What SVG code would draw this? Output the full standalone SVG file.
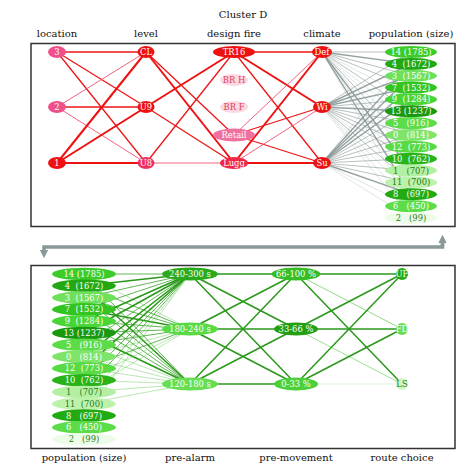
<svg xmlns="http://www.w3.org/2000/svg" width="474" height="474" viewBox="0 0 474 474">
<defs>
<style>
text{font-family:"DejaVu Serif","Liberation Serif",serif;}
.hd{font-size:10px;fill:#111;text-anchor:middle;}
.nl{font-size:8.4px;fill:#fff;text-anchor:middle;dominant-baseline:central;}
.nd{font-size:8.4px;fill:#2a7a20;text-anchor:middle;dominant-baseline:central;}
.box{fill:#fff;stroke:#333;stroke-width:1.5;}
.r1{stroke:#ee1111;stroke-width:2;fill:none;}
.r2{stroke:#ee1515;stroke-width:1.3;fill:none;}
.r3{stroke:#f05070;stroke-width:0.9;fill:none;}
.gA{stroke:#8a9898;stroke-width:1.4;opacity:.9;}
.gB{stroke:#8a9898;stroke-width:1;opacity:.6;}
.gC{stroke:#8a9898;stroke-width:.8;opacity:.3;}
.k1{stroke:#2a981a;stroke-width:1.5;}
.k2{stroke:#3aa62a;stroke-width:1;opacity:.8;}
.k3{stroke:#55c545;stroke-width:.8;opacity:.5;}
.arr{stroke:#8a9898;stroke-width:3.5;fill:none;}
</style>
<marker id="ah" viewBox="0 0 10 10" refX="5" refY="5" markerWidth="2.4" markerHeight="2.4" orient="auto">
<path d="M0,0 L10,5 L0,10 z" fill="#8a9898"/>
</marker>
</defs>
<rect width="474" height="474" fill="#fff"/>
<text class="hd" x="243" y="18" font-size="10.5">Cluster D</text>
<text class="hd" x="57" y="37">location</text>
<text class="hd" x="146" y="37">level</text>
<text class="hd" x="234" y="37">design fire</text>
<text class="hd" x="322" y="37">climate</text>
<text class="hd" x="411" y="37">population (size)</text>
<rect class="box" x="31" y="43.5" width="424" height="183"/>
<rect class="box" x="31" y="265.5" width="424" height="183"/>
<text class="hd" x="84" y="461">population (size)</text>
<text class="hd" x="190" y="461">pre-alarm</text>
<text class="hd" x="296" y="461">pre-movement</text>
<text class="hd" x="402" y="461">route choice</text>

<g id="connectors">
<line class="r2" x1="57" y1="52" x2="146" y2="52"/>
<line class="r2" x1="57" y1="52" x2="146" y2="107"/>
<line class="r2" x1="57" y1="52" x2="146" y2="163"/>
<line class="r3" x1="57" y1="107" x2="146" y2="52"/>
<line class="r2" x1="57" y1="107" x2="146" y2="107"/>
<line class="r3" x1="57" y1="107" x2="146" y2="163"/>
<line class="r1" x1="57" y1="163" x2="146" y2="52"/>
<line class="r1" x1="57" y1="163" x2="146" y2="107"/>
<line class="r1" x1="57" y1="163" x2="146" y2="163"/>
<line class="r2" x1="146" y1="52" x2="234" y2="135"/>
<line class="r1" x1="146" y1="52" x2="234" y2="163"/>
<line class="r1" x1="146" y1="107" x2="234" y2="52"/>
<line class="r2" x1="146" y1="107" x2="234" y2="163"/>
<line class="r2" x1="146" y1="163" x2="234" y2="52"/>
<line class="r3" x1="146" y1="163" x2="234" y2="163"/>
<line class="r2" x1="234" y1="52" x2="322" y2="52"/>
<line class="r1" x1="234" y1="52" x2="322" y2="107"/>
<line class="r2" x1="234" y1="52" x2="322" y2="163"/>
<line class="r3" x1="234" y1="135" x2="322" y2="52"/>
<line class="r2" x1="234" y1="135" x2="322" y2="107"/>
<line class="r2" x1="234" y1="135" x2="322" y2="163"/>
<line class="r1" x1="234" y1="163" x2="322" y2="52"/>
<line class="r3" x1="234" y1="163" x2="322" y2="107"/>
<line class="r1" x1="234" y1="163" x2="322" y2="163"/>
<g>
<line class="gB" x1="322" y1="52" x2="411" y2="52"/>
<line class="gA" x1="322" y1="52" x2="411" y2="63.9"/>
<line class="gB" x1="322" y1="52" x2="411" y2="75.7"/>
<line class="gB" x1="322" y1="52" x2="411" y2="87.6"/>
<line class="gC" x1="322" y1="52" x2="411" y2="99.4"/>
<line class="gB" x1="322" y1="52" x2="411" y2="111.3"/>
<line class="gC" x1="322" y1="52" x2="411" y2="123.1"/>
<line class="gC" x1="322" y1="52" x2="411" y2="135"/>
<line class="gB" x1="322" y1="52" x2="411" y2="146.8"/>
<line class="gC" x1="322" y1="52" x2="411" y2="158.7"/>
<line class="gA" x1="322" y1="52" x2="411" y2="170.5"/>
<line class="gC" x1="322" y1="52" x2="411" y2="182.4"/>
<line class="gA" x1="322" y1="52" x2="411" y2="194.2"/>
<line class="gC" x1="322" y1="52" x2="411" y2="206.1"/>
<line class="gB" x1="322" y1="107" x2="411" y2="52"/>
<line class="gA" x1="322" y1="107" x2="411" y2="63.9"/>
<line class="gA" x1="322" y1="107" x2="411" y2="75.7"/>
<line class="gA" x1="322" y1="107" x2="411" y2="87.6"/>
<line class="gB" x1="322" y1="107" x2="411" y2="99.4"/>
<line class="gA" x1="322" y1="107" x2="411" y2="111.3"/>
<line class="gB" x1="322" y1="107" x2="411" y2="123.1"/>
<line class="gB" x1="322" y1="107" x2="411" y2="135"/>
<line class="gB" x1="322" y1="107" x2="411" y2="146.8"/>
<line class="gB" x1="322" y1="107" x2="411" y2="158.7"/>
<line class="gC" x1="322" y1="107" x2="411" y2="170.5"/>
<line class="gB" x1="322" y1="107" x2="411" y2="182.4"/>
<line class="gC" x1="322" y1="107" x2="411" y2="194.2"/>
<line class="gC" x1="322" y1="107" x2="411" y2="206.1"/>
<line class="gC" x1="322" y1="107" x2="411" y2="217.9"/>
<line class="gC" x1="322" y1="163" x2="411" y2="52"/>
<line class="gA" x1="322" y1="163" x2="411" y2="63.9"/>
<line class="gA" x1="322" y1="163" x2="411" y2="75.7"/>
<line class="gA" x1="322" y1="163" x2="411" y2="87.6"/>
<line class="gA" x1="322" y1="163" x2="411" y2="99.4"/>
<line class="gB" x1="322" y1="163" x2="411" y2="111.3"/>
<line class="gB" x1="322" y1="163" x2="411" y2="123.1"/>
<line class="gB" x1="322" y1="163" x2="411" y2="135"/>
<line class="gB" x1="322" y1="163" x2="411" y2="146.8"/>
<line class="gB" x1="322" y1="163" x2="411" y2="158.7"/>
<line class="gB" x1="322" y1="163" x2="411" y2="170.5"/>
<line class="gB" x1="322" y1="163" x2="411" y2="182.4"/>
<line class="gA" x1="322" y1="163" x2="411" y2="194.2"/>
<line class="gC" x1="322" y1="163" x2="411" y2="206.1"/>
<line class="gC" x1="322" y1="163" x2="411" y2="217.9"/>
</g>
<g>
<line class="k2" x1="84" y1="274" x2="190" y2="274"/>
<line class="k3" x1="84" y1="274" x2="190" y2="329"/>
<line class="k2" x1="84" y1="274" x2="190" y2="384"/>
<line class="k1" x1="84" y1="285.8" x2="190" y2="274"/>
<line class="k2" x1="84" y1="285.8" x2="190" y2="329"/>
<line class="k1" x1="84" y1="285.8" x2="190" y2="384"/>
<line class="k2" x1="84" y1="297.6" x2="190" y2="274"/>
<line class="k2" x1="84" y1="297.6" x2="190" y2="329"/>
<line class="k2" x1="84" y1="297.6" x2="190" y2="384"/>
<line class="k2" x1="84" y1="309.4" x2="190" y2="274"/>
<line class="k1" x1="84" y1="309.4" x2="190" y2="329"/>
<line class="k2" x1="84" y1="309.4" x2="190" y2="384"/>
<line class="k1" x1="84" y1="321.2" x2="190" y2="274"/>
<line class="k2" x1="84" y1="321.2" x2="190" y2="329"/>
<line class="k2" x1="84" y1="321.2" x2="190" y2="384"/>
<line class="k1" x1="84" y1="333" x2="190" y2="274"/>
<line class="k2" x1="84" y1="333" x2="190" y2="329"/>
<line class="k1" x1="84" y1="333" x2="190" y2="384"/>
<line class="k2" x1="84" y1="344.8" x2="190" y2="274"/>
<line class="k2" x1="84" y1="344.8" x2="190" y2="329"/>
<line class="k3" x1="84" y1="344.8" x2="190" y2="384"/>
<line class="k1" x1="84" y1="356.6" x2="190" y2="274"/>
<line class="k3" x1="84" y1="356.6" x2="190" y2="329"/>
<line class="k3" x1="84" y1="356.6" x2="190" y2="384"/>
<line class="k1" x1="84" y1="368.4" x2="190" y2="274"/>
<line class="k2" x1="84" y1="368.4" x2="190" y2="329"/>
<line class="k3" x1="84" y1="368.4" x2="190" y2="384"/>
<line class="k2" x1="84" y1="380.2" x2="190" y2="274"/>
<line class="k3" x1="84" y1="380.2" x2="190" y2="329"/>
<line class="k3" x1="84" y1="380.2" x2="190" y2="384"/>
<line class="k2" x1="84" y1="392" x2="190" y2="274"/>
<line class="k3" x1="84" y1="392" x2="190" y2="329"/>
<line class="k3" x1="84" y1="392" x2="190" y2="384"/>
<line class="k3" x1="84" y1="403.8" x2="190" y2="274"/>
<line class="k3" x1="84" y1="403.8" x2="190" y2="384"/>
<line class="k3" x1="84" y1="415.6" x2="190" y2="274"/>
</g>
<line class="k1" x1="190" y1="274" x2="296" y2="274"/>
<line class="k1" x1="190" y1="274" x2="296" y2="329"/>
<line class="k1" x1="190" y1="274" x2="296" y2="384"/>
<line class="k1" x1="190" y1="329" x2="296" y2="274"/>
<line class="k1" x1="190" y1="329" x2="296" y2="329"/>
<line class="k1" x1="190" y1="329" x2="296" y2="384"/>
<line class="k1" x1="190" y1="384" x2="296" y2="274"/>
<line class="k1" x1="190" y1="384" x2="296" y2="329"/>
<line class="k1" x1="190" y1="384" x2="296" y2="384"/>
<line class="k1" x1="296" y1="274" x2="402" y2="274"/>
<line class="k3" x1="296" y1="274" x2="402" y2="329" style="opacity:.8"/>
<line class="k1" x1="296" y1="274" x2="402" y2="384"/>
<line class="k1" x1="296" y1="329" x2="402" y2="274"/>
<line class="k1" x1="296" y1="329" x2="402" y2="329"/>
<line class="k3" x1="296" y1="329" x2="402" y2="384" style="opacity:.7"/>
<line class="k1" x1="296" y1="384" x2="402" y2="274"/>
<line class="k1" x1="296" y1="384" x2="402" y2="329"/>
<line class="k3" x1="296" y1="384" x2="402" y2="384" style="opacity:.25"/>
<path class="arr" d="M442.5,240 V247 H44 V254" marker-end="url(#ah)"/>
<path class="arr" d="M442.5,247 V239" marker-end="url(#ah)"/>
</g>

<g id="loc3"><ellipse cx="57" cy="52" rx="9" ry="6" fill="#f0508a"/><text class="nl" x="57" y="52">3</text></g>
<g id="loc2"><ellipse cx="57" cy="107" rx="9" ry="6" fill="#f0508a"/><text class="nl" x="57" y="107">2</text></g>
<g id="loc1"><ellipse cx="57" cy="163" rx="9" ry="6" fill="#ee1111"/><text class="nl" x="57" y="163">1</text></g>
<g id="lvCL"><ellipse cx="146" cy="52" rx="8.5" ry="6" fill="#ee1111"/><text class="nl" x="146" y="52">CL</text></g>
<g id="lvU9"><ellipse cx="146" cy="107" rx="8.5" ry="6" fill="#ee1111"/><text class="nl" x="146" y="107">U9</text></g>
<g id="lvU8"><ellipse cx="146" cy="163" rx="8.5" ry="6" fill="#f03060"/><text class="nl" x="146" y="163">U8</text></g>
<g id="dfTR16"><ellipse cx="234" cy="52" rx="21" ry="6" fill="#ee1111"/><text class="nl" x="234" y="52">TR16</text></g>
<g id="dfBRH"><ellipse cx="234" cy="80" rx="14" ry="6" fill="#fcd8e2"/><text class="nl" x="234" y="80" style="fill:#e04060">BR H</text></g>
<g id="dfBRF"><ellipse cx="234" cy="107" rx="14" ry="6" fill="#fcd8e2"/><text class="nl" x="234" y="107" style="fill:#e04060">BR F</text></g>
<g id="dfRetail"><ellipse cx="234" cy="135" rx="21" ry="6.5" fill="#f070a0"/><text class="nl" x="234" y="135">Retail</text></g>
<g id="dfLugg"><ellipse cx="234" cy="163" rx="14" ry="6" fill="#f02848"/><text class="nl" x="234" y="163">Lugg</text></g>
<g id="clDef"><ellipse cx="322" cy="52" rx="10" ry="6" fill="#ee1111"/><text class="nl" x="322" y="52">Def</text></g>
<g id="clWi"><ellipse cx="322" cy="107" rx="9" ry="6" fill="#ee1111"/><text class="nl" x="322" y="107">Wi</text></g>
<g id="clSu"><ellipse cx="322" cy="163" rx="9" ry="6" fill="#ee1111"/><text class="nl" x="322" y="163">Su</text></g>

<g id="tp14"><ellipse cx="411" cy="52" rx="26" ry="6" fill="#3ccc2a"/><text class="nl" x="411" y="52" xml:space="preserve">14 (1785)</text></g>
<g id="tp4"><ellipse cx="411" cy="63.9" rx="26" ry="6" fill="#22a812"/><text class="nl" x="411" y="63.9" xml:space="preserve">4  (1672)</text></g>
<g id="tp3"><ellipse cx="411" cy="75.7" rx="26" ry="6" fill="#6ee05a"/><text class="nl" x="411" y="75.7" xml:space="preserve">3  (1567)</text></g>
<g id="tp7"><ellipse cx="411" cy="87.6" rx="26" ry="6" fill="#33c422"/><text class="nl" x="411" y="87.6" xml:space="preserve">7  (1532)</text></g>
<g id="tp9"><ellipse cx="411" cy="99.4" rx="26" ry="6" fill="#48d636"/><text class="nl" x="411" y="99.4" xml:space="preserve">9  (1284)</text></g>
<g id="tp13"><ellipse cx="411" cy="111.3" rx="26" ry="6" fill="#1a9810"/><text class="nl" x="411" y="111.3" xml:space="preserve">13 (1237)</text></g>
<g id="tp5"><ellipse cx="411" cy="123.1" rx="26" ry="6" fill="#5cdc48"/><text class="nl" x="411" y="123.1" xml:space="preserve">5   (916)</text></g>
<g id="tp0"><ellipse cx="411" cy="135" rx="26" ry="6" fill="#7ee46a"/><text class="nl" x="411" y="135" xml:space="preserve">0   (814)</text></g>
<g id="tp12"><ellipse cx="411" cy="146.8" rx="26" ry="6" fill="#58da44"/><text class="nl" x="411" y="146.8" xml:space="preserve">12  (773)</text></g>
<g id="tp10"><ellipse cx="411" cy="158.7" rx="26" ry="6" fill="#28b418"/><text class="nl" x="411" y="158.7" xml:space="preserve">10  (762)</text></g>
<g id="tp1"><ellipse cx="411" cy="170.5" rx="26" ry="6" fill="#b4f0a4"/><text class="nd" x="411" y="170.5" xml:space="preserve">1   (707)</text></g>
<g id="tp11"><ellipse cx="411" cy="182.4" rx="26" ry="6" fill="#bcf2ac"/><text class="nd" x="411" y="182.4" xml:space="preserve">11  (700)</text></g>
<g id="tp8"><ellipse cx="411" cy="194.2" rx="26" ry="6" fill="#22aa12"/><text class="nl" x="411" y="194.2" xml:space="preserve">8   (697)</text></g>
<g id="tp6"><ellipse cx="411" cy="206.1" rx="26" ry="6" fill="#5cdc48"/><text class="nl" x="411" y="206.1" xml:space="preserve">6   (450)</text></g>
<g id="tp2"><ellipse cx="411" cy="217.9" rx="26" ry="6" fill="#ecfce8"/><text class="nd" x="411" y="217.9" xml:space="preserve">2   (99)</text></g>

<g id="bp14"><ellipse cx="84" cy="274" rx="32" ry="6.3" fill="#3ccc2a"/><text class="nl" x="84" y="274" xml:space="preserve">14 (1785)</text></g>
<g id="bp4"><ellipse cx="84" cy="285.8" rx="32" ry="6.3" fill="#22a812"/><text class="nl" x="84" y="285.8" xml:space="preserve">4  (1672)</text></g>
<g id="bp3"><ellipse cx="84" cy="297.6" rx="32" ry="6.3" fill="#6ee05a"/><text class="nl" x="84" y="297.6" xml:space="preserve">3  (1567)</text></g>
<g id="bp7"><ellipse cx="84" cy="309.4" rx="32" ry="6.3" fill="#33c422"/><text class="nl" x="84" y="309.4" xml:space="preserve">7  (1532)</text></g>
<g id="bp9"><ellipse cx="84" cy="321.2" rx="32" ry="6.3" fill="#48d636"/><text class="nl" x="84" y="321.2" xml:space="preserve">9  (1284)</text></g>
<g id="bp13"><ellipse cx="84" cy="333" rx="32" ry="6.3" fill="#1a9810"/><text class="nl" x="84" y="333" xml:space="preserve">13 (1237)</text></g>
<g id="bp5"><ellipse cx="84" cy="344.8" rx="32" ry="6.3" fill="#5cdc48"/><text class="nl" x="84" y="344.8" xml:space="preserve">5   (916)</text></g>
<g id="bp0"><ellipse cx="84" cy="356.6" rx="32" ry="6.3" fill="#7ee46a"/><text class="nl" x="84" y="356.6" xml:space="preserve">0   (814)</text></g>
<g id="bp12"><ellipse cx="84" cy="368.4" rx="32" ry="6.3" fill="#58da44"/><text class="nl" x="84" y="368.4" xml:space="preserve">12  (773)</text></g>
<g id="bp10"><ellipse cx="84" cy="380.2" rx="32" ry="6.3" fill="#28b418"/><text class="nl" x="84" y="380.2" xml:space="preserve">10  (762)</text></g>
<g id="bp1"><ellipse cx="84" cy="392" rx="32" ry="6.3" fill="#b4f0a4"/><text class="nd" x="84" y="392" xml:space="preserve">1   (707)</text></g>
<g id="bp11"><ellipse cx="84" cy="403.8" rx="32" ry="6.3" fill="#bcf2ac"/><text class="nd" x="84" y="403.8" xml:space="preserve">11  (700)</text></g>
<g id="bp8"><ellipse cx="84" cy="415.6" rx="32" ry="6.3" fill="#22aa12"/><text class="nl" x="84" y="415.6" xml:space="preserve">8   (697)</text></g>
<g id="bp6"><ellipse cx="84" cy="427.4" rx="32" ry="6.3" fill="#5cdc48"/><text class="nl" x="84" y="427.4" xml:space="preserve">6   (450)</text></g>
<g id="bp2"><ellipse cx="84" cy="439.2" rx="32" ry="6.3" fill="#ecfce8"/><text class="nd" x="84" y="439.2" xml:space="preserve">2   (99)</text></g>

<g id="pa1"><ellipse cx="190" cy="274" rx="28" ry="6.5" fill="#2aaa1a"/><text class="nl" x="190" y="274">240-300 s</text></g>
<g id="pa2"><ellipse cx="190" cy="329" rx="28" ry="6.5" fill="#58da44"/><text class="nl" x="190" y="329">180-240 s</text></g>
<g id="pa3"><ellipse cx="190" cy="384" rx="28" ry="6.5" fill="#66de52"/><text class="nl" x="190" y="384">120-180 s</text></g>
<g id="pm1"><ellipse cx="296" cy="274" rx="24.5" ry="6.5" fill="#36bc24"/><text class="nl" x="296" y="274">66-100 %</text></g>
<g id="pm2"><ellipse cx="296" cy="329" rx="22" ry="6.5" fill="#22a012"/><text class="nl" x="296" y="329">33-66 %</text></g>
<g id="pm3"><ellipse cx="296" cy="384" rx="22" ry="6.5" fill="#4cd03a"/><text class="nl" x="296" y="384">0-33 %</text></g>
<g id="rcUF"><ellipse cx="402" cy="274" rx="6" ry="6" fill="#22aa12"/><text class="nl" x="402" y="274">UF</text></g>
<g id="rcFD"><ellipse cx="402" cy="329" rx="6" ry="6" fill="#66dd52"/><text class="nl" x="402" y="329">FD</text></g>
<g id="rcLS"><ellipse cx="402" cy="384" rx="6" ry="6" fill="#d0f6c6"/><text class="nd" x="402" y="384">LS</text></g>
</svg>
